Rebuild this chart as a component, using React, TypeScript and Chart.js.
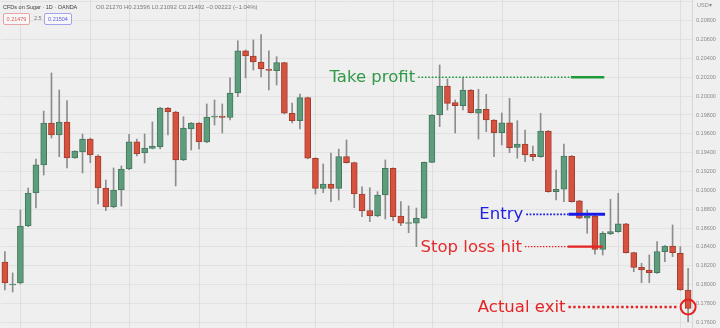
import { useEffect, useRef } from "react";
import { Chart, registerables } from "chart.js";

Chart.register(...registerables);

// Daily sugar CFD candles (price in USD)
const opens = [
  0.1824, 0.17996, 0.18018, 0.18622, 0.18972, 0.1927, 0.19715, 0.19588, 0.19726, 0.19344,
  0.19407, 0.19545, 0.19365, 0.19025, 0.18824, 0.19004, 0.19227, 0.19514, 0.19397, 0.19445,
  0.1946, 0.19874, 0.19832, 0.19323, 0.19651, 0.19715, 0.19514, 0.19776, 0.19789, 0.19773,
  0.20033, 0.20482, 0.20426, 0.20362, 0.20285, 0.2027, 0.20355, 0.19818, 0.1974, 0.19984,
  0.19341, 0.19022, 0.19068, 0.19022, 0.19358, 0.19294, 0.18962, 0.18785, 0.18728, 0.18951,
  0.19234, 0.18728, 0.18649, 0.18651, 0.18704, 0.19298, 0.198, 0.20108, 0.19931, 0.19899,
  0.20065, 0.19818, 0.1986, 0.19747, 0.19612, 0.19718, 0.19457, 0.19492, 0.19383, 0.19358,
  0.1963, 0.18986, 0.19012, 0.19365, 0.18888, 0.18704, 0.18728, 0.18375, 0.18537, 0.18562,
  0.18644, 0.18339, 0.18184, 0.18155, 0.18127, 0.1835, 0.1841, 0.18333, 0.17943,
];
const highs = [
  0.1835, 0.18124, 0.18792, 0.19025, 0.19333, 0.19842, 0.20246, 0.20065, 0.19952, 0.1942,
  0.19598, 0.19556, 0.19376, 0.1911, 0.19238, 0.19259, 0.19595, 0.19545, 0.19598, 0.19726,
  0.1988, 0.1988, 0.1984, 0.19782, 0.1972, 0.1972, 0.19917, 0.19959, 0.19917, 0.20193,
  0.20588, 0.2049, 0.20596, 0.20652, 0.20482, 0.20419, 0.2036, 0.19927, 0.20023, 0.1999,
  0.19345, 0.1928, 0.19397, 0.19439, 0.19535, 0.193, 0.19039, 0.19029, 0.18986, 0.19323,
  0.1924, 0.1888, 0.18835, 0.18813, 0.193, 0.19805, 0.20331, 0.20182, 0.19959, 0.20193,
  0.2007, 0.20073, 0.2002, 0.1975, 0.19821, 0.19977, 0.1974, 0.19641, 0.19471, 0.19818,
  0.19635, 0.19216, 0.19492, 0.1937, 0.18895, 0.18792, 0.18735, 0.18562, 0.18906, 0.18969,
  0.1865, 0.18345, 0.18227, 0.18315, 0.18456, 0.18415, 0.18633, 0.18403, 0.18173,
];
const lows = [
  0.17943, 0.17922, 0.18007, 0.18615, 0.18813, 0.19163, 0.19556, 0.19358, 0.19238, 0.1934,
  0.19185, 0.19294, 0.18856, 0.18785, 0.18815, 0.18835, 0.1922, 0.19365, 0.19291, 0.1944,
  0.19439, 0.19588, 0.19047, 0.19315, 0.19429, 0.19439, 0.19505, 0.19694, 0.19609, 0.19747,
  0.19994, 0.20193, 0.20277, 0.20203, 0.20065, 0.20118, 0.19812, 0.19715, 0.19651, 0.19335,
  0.18962, 0.18976, 0.1888, 0.18898, 0.1929, 0.18816, 0.18721, 0.18668, 0.1872, 0.18697,
  0.18679, 0.18625, 0.18551, 0.18403, 0.187, 0.19295, 0.19676, 0.19853, 0.19609, 0.19853,
  0.1982, 0.19545, 0.19623, 0.19358, 0.19482, 0.194, 0.19341, 0.19305, 0.19315, 0.1935,
  0.1898, 0.18898, 0.1888, 0.18875, 0.187, 0.18545, 0.18322, 0.18315, 0.1853, 0.18555,
  0.18335, 0.18137, 0.18021, 0.18021, 0.1812, 0.18244, 0.18297, 0.1794, 0.17607,
];
const closes = [
  0.18018, 0.18002, 0.18622, 0.18972, 0.1927, 0.19715, 0.19588, 0.19726, 0.19344, 0.19418,
  0.19545, 0.19376, 0.19025, 0.18824, 0.19004, 0.19227, 0.19514, 0.19386, 0.1945, 0.19471,
  0.19874, 0.19832, 0.19323, 0.19662, 0.19715, 0.19514, 0.19779, 0.19789, 0.19773, 0.20033,
  0.20482, 0.20426, 0.20362, 0.20291, 0.20274, 0.20355, 0.19818, 0.1974, 0.19984, 0.19341,
  0.19022, 0.19068, 0.19022, 0.19358, 0.19294, 0.18962, 0.18781, 0.18728, 0.18951, 0.19234,
  0.18721, 0.18651, 0.18654, 0.18704, 0.19298, 0.198, 0.20108, 0.19924, 0.19899, 0.20065,
  0.19824, 0.1986, 0.19747, 0.19612, 0.19718, 0.19453, 0.19492, 0.19376, 0.19358, 0.1963,
  0.18986, 0.19012, 0.19365, 0.1888, 0.18704, 0.18728, 0.18375, 0.18545, 0.18562, 0.18644,
  0.18339, 0.18184, 0.18155, 0.18127, 0.1835, 0.1841, 0.18339, 0.17943, 0.17749,
];
const sessions = opens.map((_, i) => String(i + 1));

// Trade levels
const levelNames = ["Take profit", "Entry", "Stop loss hit", "Actual exit"];
const levelPrices = [0.202, 0.18746, 0.18403, 0.17763];

// Sessions where the time grid draws a vertical line
const timeGridSessions = [2, 11, 16, 25, 31, 40, 50, 55, 64, 79, 87];

const BG = "#efefef";
const UP = "#5d9d7d";
const UP_EDGE = "#44775d";
const DOWN = "#d6523f";
const DOWN_EDGE = "#a13d2f";

// Per-level drawing: where the label ends, where the dotted leader ends, where the solid stub ends (bar index units)
const levelStyles = [
  { color: "#2e9a48", line: "#1f9a3a", textEnd: 52.84, dotEnd: 72.9, solidEnd: 77.2, dotWidth: 1.6, dash: [1.6, 1.8], solidWidth: 2.5 },
  { color: "#2121e4", line: "#1a1ae8", textEnd: 66.76, dotEnd: 72.6, solidEnd: 77.3, dotWidth: 1.8, dash: [1.8, 1.6], solidWidth: 3 },
  { color: "#e52b2b", line: "#e52222", textEnd: 66.6, dotEnd: 72.5, solidEnd: 77.0, dotWidth: 1.3, dash: [1.4, 1.6], solidWidth: 2.2 },
  { color: "#e42424", line: "#e42020", textEnd: 72.2, dotEnd: 86.7, solidEnd: null, dotWidth: 2.4, dash: [2.4, 2.4], solidWidth: 0 },
];

const timeGrid = {
  id: "timeGrid",
  beforeDatasetsDraw(chart: any) {
    const { ctx, chartArea } = chart;
    const x = chart.scales.x;
    ctx.save();
    ctx.strokeStyle = "#dedede";
    ctx.lineWidth = 1;
    for (const i of timeGridSessions) {
      const px = Math.round(x.getPixelForValue(i)) + 0.5;
      ctx.beginPath();
      ctx.moveTo(px, chartArea.top);
      ctx.lineTo(px, chartArea.bottom);
      ctx.stroke();
    }
    ctx.restore();
  },
};

const tradeLevels = {
  id: "tradeLevels",
  afterDatasetsDraw(chart: any) {
    const { ctx } = chart;
    const x = chart.scales.x;
    const y = chart.scales.y;
    ctx.save();
    ctx.font = '16.5px "DejaVu Sans", Verdana, sans-serif';
    ctx.textBaseline = "alphabetic";
    ctx.textAlign = "right";
    levelPrices.forEach((price, k) => {
      const s = levelStyles[k];
      const py = y.getPixelForValue(price);
      const tEnd = x.getPixelForValue(s.textEnd);
      ctx.fillStyle = s.color;
      ctx.fillText(levelNames[k], tEnd, py + 5);
      const dStart = tEnd + 3;
      const dEnd = x.getPixelForValue(s.dotEnd);
      ctx.strokeStyle = s.line;
      ctx.lineWidth = s.dotWidth;
      ctx.setLineDash(s.dash);
      ctx.beginPath();
      ctx.moveTo(dStart, py);
      ctx.lineTo(dEnd, py);
      ctx.stroke();
      ctx.setLineDash([]);
      if (s.solidEnd !== null) {
        ctx.lineWidth = s.solidWidth;
        ctx.beginPath();
        ctx.moveTo(dEnd, py);
        ctx.lineTo(x.getPixelForValue(s.solidEnd), py);
        ctx.stroke();
      }
    });
    // ring around the exit bar
    const lastIdx = sessions.length - 1;
    ctx.strokeStyle = "#e42020";
    ctx.lineWidth = 2;
    ctx.beginPath();
    ctx.arc(x.getPixelForValue(lastIdx), y.getPixelForValue(levelPrices[3]), 7.5, 0, Math.PI * 2);
    ctx.stroke();
    ctx.restore();
  },
};

export default function App() {
  const canvasRef = useRef<HTMLCanvasElement | null>(null);

  useEffect(() => {
    document.body.style.margin = "0";
    document.body.style.background = BG;
    const canvas = canvasRef.current;
    if (!canvas) return;
    const up = closes.map((c, i) => c >= opens[i]);
    const chart = new Chart(canvas, {
      type: "bar",
      data: {
        labels: sessions,
        datasets: [
          {
            label: "body",
            data: opens.map((o, i) => [o, closes[i]]) as any,
            backgroundColor: up.map((u) => (u ? UP : DOWN)),
            borderColor: up.map((u) => (u ? UP_EDGE : DOWN_EDGE)),
            borderWidth: 1,
            borderSkipped: false,
            barThickness: 6,
            minBarLength: 1,
            grouped: false,
            order: 0,
          },
          {
            label: "wick",
            data: lows.map((l, i) => [l, highs[i]]) as any,
            backgroundColor: "#8c8c8c",
            borderWidth: 0,
            barThickness: 1,
            grouped: false,
            order: 1,
          },
        ],
      },
      options: {
        animation: false,
        responsive: true,
        maintainAspectRatio: false,
        events: [],
        layout: { padding: { left: 1, right: 0, top: 0, bottom: 0 } },
        plugins: { legend: { display: false }, tooltip: { enabled: false } },
        scales: {
          x: { display: false, offset: true },
          y: {
            position: "right",
            min: 0.1754,
            max: 0.2102,
            afterFit: (scale: any) => {
              scale.width = 28;
              scale.paddingTop = 0;
              scale.paddingBottom = 0;
            },
            grid: { color: "#e2e2e2", drawTicks: false },
            border: { display: true, color: "#d6d6d6" },
            ticks: {
              stepSize: 0.002,
              includeBounds: false,
              maxTicksLimit: 100,
              padding: 4,
              color: "#8a8a8a",
              font: { size: 5.5, family: '"Liberation Sans", Arial, sans-serif' },
              callback: (v: any) => (Number(v) > 0.2095 ? "" : Number(v).toFixed(5)),
            },
          },
        },
      },
      plugins: [timeGrid, tradeLevels],
    });
    return () => chart.destroy();
  }, []);

  const small = { font: '5.5px "Liberation Sans", Arial, sans-serif', whiteSpace: "nowrap" as const, position: "absolute" as const };

  return (
    <div style={{ position: "relative", width: 720, height: 328, background: BG, overflow: "hidden" }}>
      <canvas ref={canvasRef} />
      <div style={{ ...small, left: 3, top: 4, color: "#3d3d3d" }}>CFDs on Sugar · 1D · OANDA</div>
      <div style={{ ...small, fontSize: 6, left: 96, top: 4, color: "#7a7a7a" }}>
        O0.21270 H0.21596 L0.21092 C0.21492 −0.00222 (−1.04%)
      </div>
      <div
        style={{ ...small, left: 3, top: 13, width: 25, height: 10, lineHeight: "10px", textAlign: "center", border: "1px solid #e9a3a3", borderRadius: 2, color: "#e05a5a", background: "#f7f7f7" }}
      >
        0.21479
      </div>
      <div style={{ ...small, left: 34, top: 15, color: "#7a7a7a" }}>2.5</div>
      <div
        style={{ ...small, left: 44, top: 13, width: 26, height: 10, lineHeight: "10px", textAlign: "center", border: "1px solid #a3a3e9", borderRadius: 2, color: "#5a5ae0", background: "#f7f7f7" }}
      >
        0.21504
      </div>
      <div style={{ ...small, left: 697, top: 2, color: "#8a8a8a" }}>USD▾</div>
    </div>
  );
}
